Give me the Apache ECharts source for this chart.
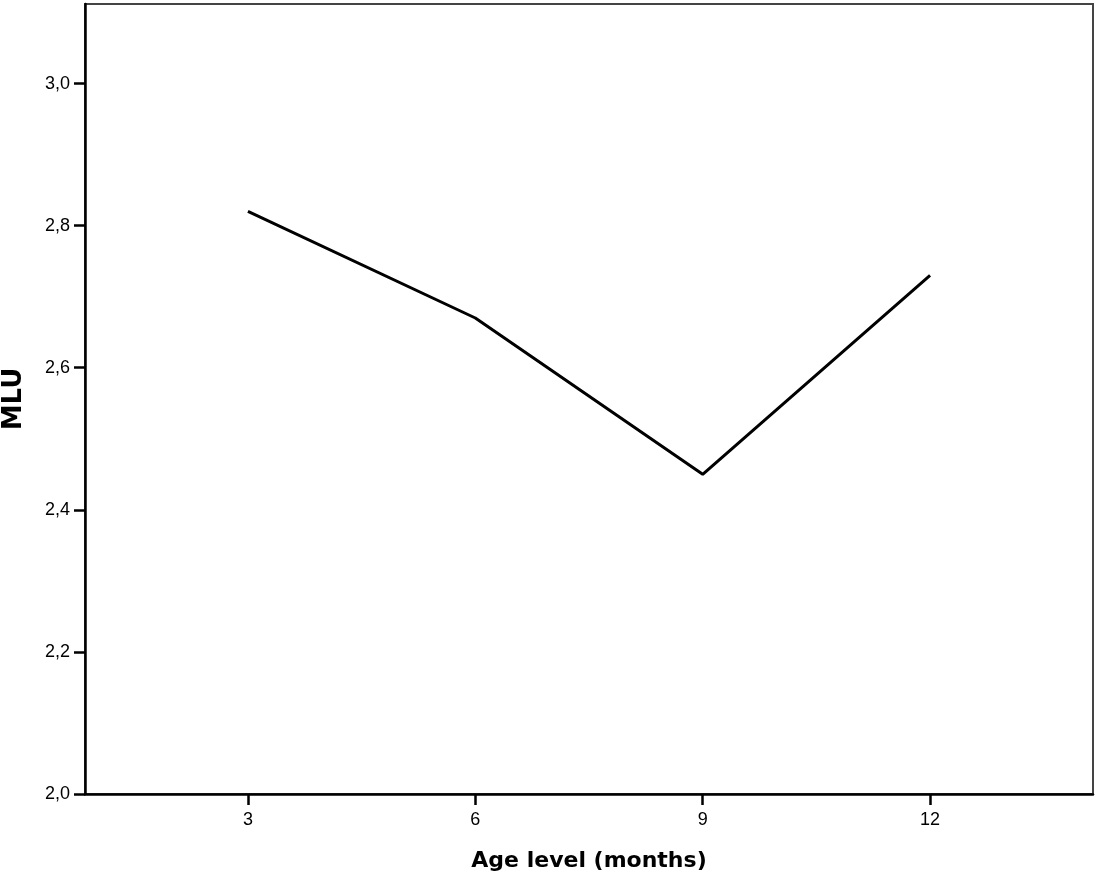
<!DOCTYPE html>
<html>
<head>
<meta charset="utf-8">
<script src="https://cdn.jsdelivr.net/npm/echarts@6/dist/echarts.min.js"></script>
<style>html,body{margin:0;padding:0;background:#fff}#c{width:1100px;height:881px}</style>
</head>
<body>
<div id="c"></div>
<script>
const ageMonths = [3, 6, 9, 12];
const mluValues = [2.82, 2.67, 2.45, 2.73];
const xTickValues = [3, 6, 9, 12];
const yTickValues = [2.0, 2.2, 2.4, 2.6, 2.8, 3.0];

const chart = echarts.init(document.getElementById('c'), null, {renderer: 'canvas'});
chart.setOption({
  animation: false,
  backgroundColor: '#fff',
  grid: {left: 85, right: 7, top: 4, bottom: 87, containLabel: false, outerBoundsMode: 'none',
    show: true, borderColor: '#444', borderWidth: 2, backgroundColor: 'transparent'},
  xAxis: {
    type: 'value', min: 0.85, max: 14.15,
    name: 'Age level (months)', nameLocation: 'middle', nameGap: 56,
    nameTextStyle: {fontFamily: 'DejaVu Sans', fontWeight: 'bold', fontSize: 22, color: '#000'},
    axisLine: {show: true, onZero: false, lineStyle: {color: '#000', width: 2.5}},
    axisTick: {show: true, customValues: xTickValues, length: 11, lineStyle: {color: '#000', width: 2.5}},
    axisLabel: {customValues: xTickValues, fontFamily: 'Liberation Sans', fontSize: 18, color: '#000', margin: 17},
    splitLine: {show: false}
  },
  yAxis: {
    type: 'value', min: 2.0, max: 3.112,
    name: 'MLU', nameLocation: 'middle', nameGap: 58, nameRotate: 90,
    nameTextStyle: {fontFamily: 'DejaVu Sans', fontWeight: 'bold', fontSize: 26, color: '#000'},
    axisLine: {show: true, onZero: false, lineStyle: {color: '#000', width: 2.5}},
    axisTick: {show: true, customValues: yTickValues, length: 11, lineStyle: {color: '#000', width: 2.5}},
    axisLabel: {customValues: yTickValues, fontFamily: 'Liberation Sans', fontSize: 18, color: '#000', margin: 15,
      formatter: v => v.toFixed(1).replace('.', ',')},
    splitLine: {show: false}
  },
  series: [{
    type: 'line',
    data: ageMonths.map((m, i) => [m, mluValues[i]]),
    showSymbol: false,
    symbol: 'none',
    lineStyle: {color: '#000', width: 3},
    silent: true
  }]
});
</script>
</body>
</html>
